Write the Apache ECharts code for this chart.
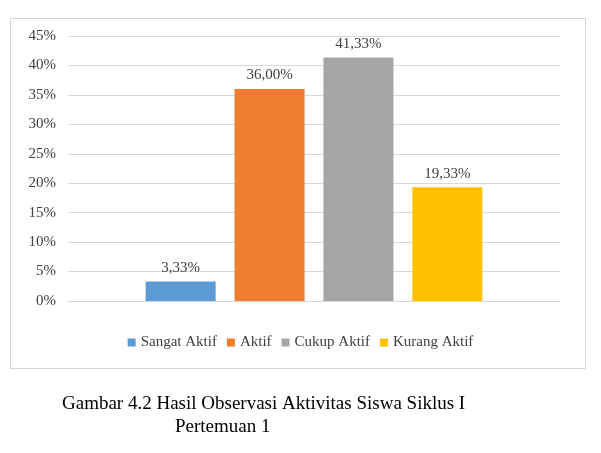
<!DOCTYPE html>
<html><head><meta charset="utf-8">
<script src="https://cdn.jsdelivr.net/npm/echarts@6/dist/echarts.min.js"></script>
<style>html,body{margin:0;padding:0;background:#fff}#c{width:601px;height:453px}</style>
</head><body><div id="c"></div>
<script>
const categories = ['Siklus I'];
const seriesNames = ['Sangat Aktif', 'Aktif', 'Cukup Aktif', 'Kurang Aktif'];
const seriesValues = [3.33, 36.00, 41.33, 19.33];
const colors = ['#5B9BD5', '#ED7D31', '#A5A5A5', '#FFC000'];
const yTicks = [0, 5, 10, 15, 20, 25, 30, 35, 40, 45];
const font = 'Liberation Serif, Times New Roman, serif';
const chart = echarts.init(document.getElementById('c'));
chart.setOption({
  animation: false,
  textStyle: { fontFamily: font },
  graphic: [
    { type: 'rect', shape: { x: 10.5, y: 18.5, width: 575, height: 350 }, style: { fill: 'none', stroke: '#d9d9d9', lineWidth: 1 }, z: -1 },
    { type: 'text', left: 62, top: 395, style: { text: 'Gambar 4.2 Hasil Observasi Aktivitas Siswa Siklus I', font: '19px ' + font, fill: '#000' } },
    { type: 'text', left: 175, top: 418, style: { text: 'Pertemuan 1', font: '19px ' + font, fill: '#000' } }
  ],
  grid: { left: 68, right: 41, top: 36, bottom: 152 },
  legend: {
    top: 330, left: 'center', itemWidth: 8, itemHeight: 8, itemGap: 10, icon: 'rect',
    textStyle: { fontFamily: font, fontSize: 15, color: '#404040' },
    data: seriesNames
  },
  xAxis: { type: 'category', data: categories, axisLabel: { show: false }, axisTick: { show: false },
    axisLine: { lineStyle: { color: '#d9d9d9' } } },
  yAxis: { type: 'value', min: 0, max: 45, interval: 5,
    axisLabel: { formatter: v => v + '%', fontFamily: font, fontSize: 15, color: '#404040', margin: 12 },
    splitLine: { lineStyle: { color: '#d9d9d9' } }, axisLine: { show: false }, axisTick: { show: false } },
  series: seriesNames.map((n, i) => ({
    name: n, type: 'bar', data: [seriesValues[i]], barWidth: 70, barGap: '27%',
    itemStyle: { color: colors[i] },
    label: { show: true, position: 'top', distance: 6, fontFamily: font, fontSize: 15, color: '#404040',
      formatter: p => p.value.toFixed(2).replace('.', ',') + '%' }
  }))
});
</script></body></html>
